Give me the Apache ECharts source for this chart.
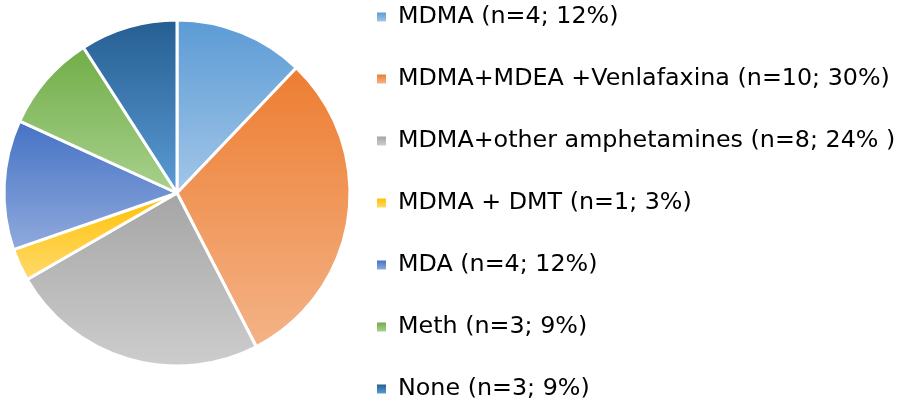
<!DOCTYPE html>
<html>
<head>
<meta charset="utf-8">
<script src="https://cdn.jsdelivr.net/npm/echarts@6/dist/echarts.min.js"></script>
<style>html,body{margin:0;padding:0;background:#fff}#c{width:900px;height:407px}</style>
</head>
<body>
<div id="c"></div>
<script>
const labels = [
  'MDMA (n=4; 12%)',
  'MDMA+MDEA +Venlafaxina (n=10; 30%)',
  'MDMA+other amphetamines (n=8; 24% )',
  'MDMA + DMT (n=1; 3%)',
  'MDA (n=4; 12%)',
  'Meth (n=3; 9%)',
  'None (n=3; 9%)'
];
const counts = [4, 10, 8, 1, 4, 3, 3];
const topColors = ['#5B9BD5', '#ED7D31', '#A5A5A5', '#FFC000', '#4472C4', '#70AD47', '#255E91'];
const bottomColors = ['#A3C6E8', '#F4B387', '#CDCDCD', '#FFDA6E', '#91AADD', '#A9D18E', '#5B9BD5'];

const chart = echarts.init(document.getElementById('c'));
const data = labels.map((name, i) => ({
  name: name,
  value: counts[i],
  itemStyle: {
    color: new echarts.graphic.LinearGradient(0, 0, 0, 1, [
      { offset: 0, color: topColors[i] },
      { offset: 1, color: bottomColors[i] }
    ])
  }
}));
chart.setOption({
  animation: false,
  legend: {
    orient: 'vertical',
    left: 377,
    top: 3,
    height: 404,
    padding: 0,
    icon: 'rect',
    itemWidth: 9,
    itemHeight: 9,
    itemGap: 34,
    itemStyle: { borderWidth: 0 },
    textStyle: {
      fontFamily: 'DejaVu Sans',
      fontSize: 23.8,
      lineHeight: 24,
      color: '#000',
      padding: [4, 0, 0, 7]
    },
    data: labels
  },
  series: [{
    type: 'pie',
    center: [177, 193],
    radius: [0, 173],
    startAngle: 90,
    clockwise: true,
    label: { show: false },
    labelLine: { show: false },
    emphasis: { disabled: true },
    itemStyle: { borderColor: '#fff', borderWidth: 3 },
    data: data
  }]
});
</script>
</body>
</html>
